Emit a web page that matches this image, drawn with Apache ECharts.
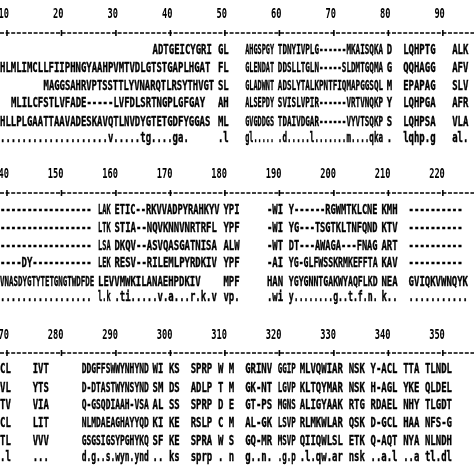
<!DOCTYPE html>
<html><head><meta charset="utf-8">
<script src="https://cdn.jsdelivr.net/npm/echarts@6/dist/echarts.min.js"></script>
<style>html,body{margin:0;background:#fff}#c{width:474px;height:474px}</style></head>
<body><div id="c"></div>
<script>
// Ruler numbers for each block
const block1Ticks = [10,20,30,40,50,60,70,80,90];
const block2Ticks = [140,150,160,170,180,190,200,210,220];
const block3Ticks = [270,280,290,300,310,320,330,340,350];
// Each row: list of [alignment column (relative to block), segment]
const block1Rows = [
 [[28,"ADTGEICYGRI"],[40,"GL"],[45,"AHGSPGY"],[51,"TDNYIVPLG------MKAISQKA"],[71,"D"],[74,"LQHPTG"],[83,"ALK"]],
 [[0,"HLMLIMCLLFIIPHNGYAAHPVMTVDLGTSTGAPLHGAT"],[40,"FL"],[45,"GLENDAT"],[51,"DDSLLTGLN-----SLDMTGQMA"],[71,"G"],[74,"QQHAGG"],[83,"AFV"]],
 [[8,"MAGGSAHRVPTSSTTLYVNARQTLRSYTHVGT"],[40,"SL"],[45,"GLADWNT"],[51,"ADSLYTALKPNTFIQMAPGGSQL"],[71,"M"],[74,"EPAPAG"],[83,"SLV"]],
 [[2,"MLILCFSTLVFADE-----LVFDLSRTNGPLGFGAY"],[40,"AH"],[45,"ALSEPDY"],[51,"SVISLVPIR------VRTVNQKP"],[71,"Y"],[74,"LQHPGA"],[83,"AFR"]],
 [[0,"HLLPLGAATTAAVADESKAVQTLNVDYGTETGDFYGGAS"],[40,"ML"],[45,"GVGDDGS"],[51,"TDAIVDGAR------VYVTSQKP"],[71,"S"],[74,"LQHPSA"],[83,"VLA"]],
 [[0,"....................v.....tg....ga."],[40,".l"],[45,"gl....."],[51,".d.....l.......m....qka"],[71,"."],[74,"lqhp.g"],[83,"al."]]
];
const block2Rows = [
 [[0,"-----------------"],[18,"LAK"],[21,"ETIC--RKVVADPYRAHKYV"],[41,"YPI"],[49,"-WI"],[53,"Y------RGWMTKLCNE"],[70,"KMH"],[75,"----------"]],
 [[0,"-----------------"],[18,"LTK"],[21,"STIA--NQVKNNVNRTRFL"],[41,"YPF"],[49,"-WI"],[53,"YG---TSGTKLTNFQND"],[70,"KTV"],[75,"----------"]],
 [[0,"-----------------"],[18,"LSA"],[21,"DKQV--ASVQASGATNISA"],[41,"ALW"],[49,"-WT"],[53,"DT---AWAGA---FNAG"],[70,"ART"],[75,"----------"]],
 [[0,"----DY-----------"],[18,"LEK"],[21,"RESV--RILEMLPYRDKIV"],[41,"YPF"],[49,"-AI"],[53,"YG-GLFWSSKRMKEFFTA"],[70,"KAV"],[75,"----------"]],
 [[0,"VNASDYGTYTETGNGTWDFDE"],[18,"LEVVMWKILANAEHPDKIV"],[41,"MPF"],[49,"HAN"],[53,"YGYGNNTGAKWYAQFLKD"],[70,"NEA"],[75,"GVIQKVWNQYK"]],
 [[0,"................."],[18,"l.k"],[21,".ti.....v.a...r.k.v"],[41,"vp."],[49,".wi"],[53,"y........g..t.f.n."],[70,"k.."],[75,"..........."]]
];
const block3Rows = [
 [[0,"CL"],[6,"IVT"],[15,"DDGFFSWWYNHYND"],[28,"WI"],[31,"KS"],[35,"SPRP"],[40,"W"],[42,"M"],[45,"GRINV"],[51,"GGIP"],[55,"MLVQWIAR"],[64,"NSK"],[68,"Y-ACL"],[74,"TTA"],[78,"TLNDL"]],
 [[0,"VL"],[6,"YTS"],[15,"D-DTASTWYNSYND"],[28,"SM"],[31,"DS"],[35,"ADLP"],[40,"T"],[42,"M"],[45,"GK-NT"],[51,"LGVP"],[55,"KLTQYMAR"],[64,"NSK"],[68,"H-AGL"],[74,"YKE"],[78,"QLDEL"]],
 [[0,"TV"],[6,"VIA"],[15,"Q-GSQDIAAH-VSA"],[28,"AL"],[31,"SS"],[35,"SPRP"],[40,"D"],[42,"E"],[45,"GT-PS"],[51,"MGNS"],[55,"ALIGYAAK"],[64,"RTG"],[68,"RDAEL"],[74,"NHY"],[78,"TLGDT"]],
 [[0,"CL"],[6,"LIT"],[15,"NLMDAEAGHAYYQD"],[28,"KI"],[31,"KE"],[35,"RSLP"],[40,"C"],[42,"M"],[45,"AL-GK"],[51,"LSVP"],[55,"RLMKWLAR"],[64,"QSK"],[68,"D-GCL"],[74,"HAA"],[78,"NFS-G"]],
 [[0,"TL"],[6,"VVV"],[15,"GSGSIGSYPGHYKQ"],[28,"SF"],[31,"KE"],[35,"SPRA"],[40,"W"],[42,"S"],[45,"GQ-MR"],[51,"MSVP"],[55,"QIIQWLSL"],[64,"ETK"],[68,"Q-AQT"],[74,"NYA"],[78,"NLNDH"]],
 [[0,".l"],[6,"..."],[15,"d.g..s.wyn.ynd"],[28,".."],[31,"ks"],[35,"sprp"],[40,"."],[42,"n"],[45,"g..n."],[51,".g.p"],[55,".l.qw.ar"],[64,"nsk"],[68,"..a.l"],[74,"..a"],[78,"tl.dl"]]
];

const layouts = [
 {ticks:block1Ticks, rows:block1Rows, num:14, ruler:33, rowY:[50,68,86,103,122,138]},
 {ticks:block2Ticks, rows:block2Rows, num:174, ruler:193, rowY:[210,228,246,263,282,297]},
 {ticks:block3Ticks, rows:block3Rows, num:335, ruler:353, rowY:[369,388,405,423,441,457]}
];
const FONT = '"DejaVu Sans Mono", monospace';
const FS = 14, CW = 0.602*FS, MAXS = 0.64, GAP = 0.7;
const textData = [], tickData = [], rulerData = [];
layouts.forEach(L=>{
  L.rows.forEach((row,ri)=>row.forEach(([c,s],si)=>{
    const next = si+1<row.length ? row[si+1][0] : 200;
    textData.push([c,L.rowY[ri],s,next-c-GAP]);
  }));
  L.ticks.forEach((t,k)=>tickData.push([1.28+10*k, L.num, String(t), L.ruler]));
  rulerData.push([0, L.ruler]);
});
const chart = echarts.init(document.getElementById('c'));
chart.setOption({
  backgroundColor:'#fff', animation:false,
  grid:{left:0,right:0,top:0,bottom:0},
  xAxis:{type:'value',min:0,max:87,show:false},
  yAxis:{type:'value',min:0,max:474,inverse:true,show:false},
  series:[
   {type:'custom', data:rulerData, renderItem:(p,api)=>{
     const a=api.coord([0,api.value(1)]), b=api.coord([87,api.value(1)]);
     return {type:'line',shape:{x1:a[0],y1:a[1],x2:b[0],y2:b[1]},style:{stroke:'#000',lineWidth:1.5,lineDash:[4,1.6]}};
   }},
   {type:'custom', data:tickData, renderItem:(p,api)=>{
     const pt=api.coord([api.value(0),api.value(1)]), r=api.coord([api.value(0),api.value(3)]);
     return {type:'group',children:[
      {type:'line',shape:{x1:r[0],y1:r[1]-3,x2:r[0],y2:r[1]+3},style:{stroke:'#000',lineWidth:1.6}},
      {type:'text',x:pt[0]+2,y:pt[1],scaleX:0.62,style:{text:api.value(2),fill:'#000',font:'bold 14px '+FONT,align:'right',verticalAlign:'middle'}}
     ]};
   }},
   {type:'custom', data:textData, renderItem:(p,api)=>{
     const pt=api.coord([api.value(0),api.value(1)]);
     const s=String(api.value(2));
     const avail=api.size([api.value(3),0])[0];
     const sx=Math.min(MAXS, avail/(s.length*CW));
     return {type:'text',x:pt[0],y:pt[1],scaleX:sx,style:{text:s,fill:'#000',font:'bold '+FS+'px '+FONT,align:'left',verticalAlign:'middle',stroke:'#000',lineWidth:0.4}};
   }}
  ]
});
</script></body></html>
